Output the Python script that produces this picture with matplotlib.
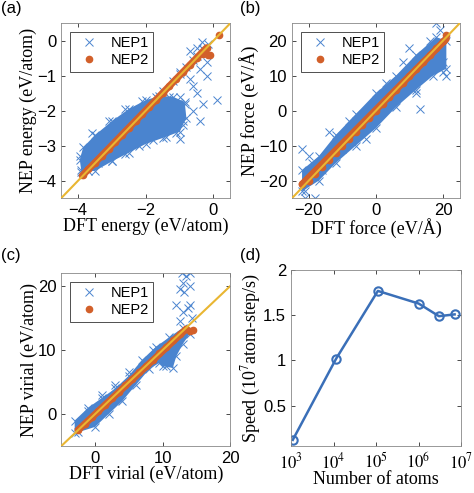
import matplotlib
matplotlib.use('Agg')
import matplotlib.pyplot as plt

plt.rcParams['font.family'] = 'Liberation Sans'
plt.rcParams['mathtext.fontset'] = 'stix'

BLUE = '#4a84cf'
ORANGE = '#d2602a'
YELLOW = '#e9b632'
SERIF = 'Liberation Serif'

# (a) energy: NEP1 cloud outline + scattered crosses, NEP2 near diagonal
a_cloud_x = [-3.9, -3.5, -3.0, -2.5, -2.0, -1.5, -1.0, -0.8, -0.85, -1.2, -1.6, -2.0, -2.5, -3.0, -3.5, -3.85, -3.95]
a_cloud_y = [-3.75, -3.72, -3.45, -3.2, -2.95, -2.78, -2.6, -2.2, -1.75, -1.6, -1.58, -1.7, -1.95, -2.3, -2.7, -3.05, -3.4]
a_nep1_x = [-3.9, -3.7, -3.4, -3.0, -2.6, -2.2, -1.8, -1.4, -1.1, -0.9, -0.85, -1.0, -1.3, -1.7, -2.1, -2.6, -3.1, -3.6,
            -3.95, -1.5, -1.2, -1.0, -0.8, -0.6, -0.5, -0.3, -0.6, -0.5, -0.3, -0.2, -0.2, 0.1, -0.4, -0.7, -0.5, -1.0,
            -0.9, -0.6, -0.4, -1.0, -0.7, -0.35, -0.25, -0.15]
a_nep1_y = [-3.7, -3.72, -3.5, -3.45, -3.25, -3.0, -2.85, -2.75, -2.65, -2.3, -1.8, -1.6, -1.6, -1.62, -1.72, -1.95, -2.3,
            -2.65, -3.3, -1.45, -1.15, -0.95, -0.75, -0.55, -0.45, -0.25, -1.3, -1.5, -1.8, -1.0, -0.6, -1.7, -0.8, -0.3,
            -0.2, -0.9, -2.4, -2.0, -2.3, -2.8, -1.1, -0.05, -0.3, -0.1]
a_band_x = [-3.88, -0.2]
a_band_y = [-3.86, -0.2]
a_nep2_x = [-3.85, -3.7, -3.5, -3.3, -3.1, -2.9, -2.7, -2.5, -2.3, -2.1, -1.9, -1.7, -1.5, -1.3, -1.1, -0.9, -0.7,
            -0.5, -0.35, -0.2, -0.15, -0.1, -0.3, 0.15]
a_nep2_y = [-3.83, -3.68, -3.5, -3.3, -3.1, -2.9, -2.7, -2.5, -2.3, -2.1, -1.9, -1.7, -1.5, -1.3, -1.1, -0.9, -0.7,
            -0.5, -0.35, -0.2, -0.4, -0.42, -0.38, 0.15]

# (b) force
b_cloud_x = [-22, -17, -12, -6, 0, 6, 12, 17, 21, 21, 18, 12, 6, 0, -6, -12, -17, -22]
b_cloud_y = [-23, -20, -15, -10, -5, 1, 6, 10, 12, 20, 21, 16, 10, 5, -1, -7, -13, -17]
b_nep1_x = [-22, -20, -21, -18, -21, -12, -8, 18, 21, 20, 13, 10, 16, 19, -16, -14, 8, 12, 3, -3, 20, 17, -19, -10]
b_nep1_y = [-11, -13, -25, -25, -23, -8, -3, 25, 10, 11, 0.5, 18, 20, 23, -17, -6, 14, 5, 8, -8, 14, 13, -15, -11]
b_band_x = [-22, 21]
b_band_y = [-21, 20.5]
b_nep2_x = [-22, -20, -18, -16, -14, -12, -10, -8, -6, -4, -2, 0, 2, 4, 6, 8, 10, 12, 14, 16, 18, 20, 21]
b_nep2_y = [-21, -20, -18, -16, -14, -12, -10, -8, -6, -4, -2, 0, 2, 4, 6, 8, 10, 12, 14, 16, 18, 20, 21.5]

# (c) virial
c_cloud_x = [-3, 0, 2, 4, 6, 8, 9.5, 10, 11.5, 12, 13, 14, 13, 11, 9, 7, 5, 3, 1, -1, -3]
c_cloud_y = [-3, -2, 0, 2, 4.5, 7, 8, 7.5, 7.2, 9, 11, 12.5, 13.5, 12, 10.5, 8.5, 6, 4, 2.5, 1, -1]
c_nep1_x = [12, 12.5, 13, 13.5, 14, 13.2, 13.8, 14, 14.3, 13, 12.8, 14, 12.5, -2.5, -1, 1, 3, 5, 8.5, 10.5, 11]
c_nep1_y = [17, 19.5, 20.5, 21.5, 22, 19, 16.5, 17, 15, 16, 22, 20, 14.5, -2.8, 0.5, 3, 4.5, 6.5, 10, 7.5, 8]
c_band_x = [-2.5, 13.5]
c_band_y = [-2.5, 13.3]
c_nep2_x = [-2.5, -1.5, -0.5, 0.5, 1.5, 2.5, 3.5, 4.5, 5.5, 6.5, 7.5, 8.5, 9.5, 10.5, 11.5, 12.5, 13.5, 14, 14.5]
c_nep2_y = [-2.5, -1.5, -0.5, 0.5, 1.5, 2.5, 3.5, 4.5, 5.5, 6.5, 7.5, 8.5, 9.5, 10.5, 11.5, 12.5, 13.3, 13.0, 13.2]

# (d) speed
n_atoms = [1.1e3, 1.15e4, 1.1e5, 1.0e6, 3.0e6, 7.0e6]
speed = [0.12, 1.02, 1.77, 1.63, 1.49, 1.51]
x_exponents = [3, 4, 5, 6, 7]

fig = plt.figure(figsize=(4.74, 4.93), dpi=100)
ax_a = fig.add_axes([0.129, 0.598, 0.357, 0.355])
ax_b = fig.add_axes([0.616, 0.598, 0.354, 0.355])
ax_c = fig.add_axes([0.129, 0.095, 0.357, 0.351])
ax_d = fig.add_axes([0.614, 0.095, 0.359, 0.357])


def parity(ax, cx, cy, px, py, bx, by, qx, qy, lim, ylim, ticks, xlabel, ylabel):
    ax.fill(cx, cy, color=BLUE, lw=0, zorder=1)
    ax.plot(cx, cy, 'x', color=BLUE, ms=6, mew=0.7, zorder=1)
    ax.plot(px, py, 'x', color=BLUE, ms=6, mew=0.7, label='NEP1', zorder=1)
    ax.plot(bx, by, '-', color=ORANGE, lw=5, solid_capstyle='round', zorder=2)
    ax.plot(qx, qy, 'o', color=ORANGE, ms=4.5, label='NEP2', zorder=2)
    ax.plot(lim, lim, color=YELLOW, lw=1.5, zorder=3)
    ax.set_xlim(lim)
    ax.set_ylim(ylim)
    ax.set_xticks(ticks)
    ax.set_yticks(ticks)
    ax.set_xlabel(xlabel, family=SERIF, fontsize=13, labelpad=0)
    ax.set_ylabel(ylabel, family=SERIF, fontsize=13, labelpad=0)
    leg = ax.legend(loc='upper left', fontsize=10.5, fancybox=False, edgecolor='black',
                    borderaxespad=0.6, handletextpad=0.5, borderpad=0.3, labelspacing=0.2)
    leg.get_frame().set_linewidth(0.6)


parity(ax_a, a_cloud_x, a_cloud_y, a_nep1_x, a_nep1_y, a_band_x, a_band_y, a_nep2_x, a_nep2_y,
       [-4.5, 0.5], [-4.5, 0.5], [-4, -2, 0], 'DFT energy (eV/atom)', 'NEP energy (eV/atom)')
ax_a.set_yticks([-4, -3, -2, -1, 0])
parity(ax_b, b_cloud_x, b_cloud_y, b_nep1_x, b_nep1_y, b_band_x, b_band_y, b_nep2_x, b_nep2_y,
       [-25, 25], [-25, 25], [-20, 0, 20], 'DFT force (eV/Å)', 'NEP force (eV/Å)')
ax_b.set_yticks([-20, -10, 0, 10, 20])
parity(ax_c, c_cloud_x, c_cloud_y, c_nep1_x, c_nep1_y, c_band_x, c_band_y, c_nep2_x, c_nep2_y,
       [-5, 20], [-5, 22], [0, 10, 20], 'DFT virial (eV/atom)', 'NEP virial (eV/atom)')

ax_d.plot(n_atoms, speed, '-o', color='#3a6fb8', lw=1.8, ms=6, mfc='none', mew=1.5)
ax_d.set_xscale('log')
ax_d.set_xlim(1e3, 1e7)
ax_d.set_xticks([10.0 ** k for k in x_exponents])
ax_d.set_xticklabels([r'$10^{%d}$' % k for k in x_exponents])
ax_d.set_ylim(0.05, 2)
ax_d.set_yticks([0.5, 1, 1.5, 2])
ax_d.set_yticklabels(['0.5', '1', '1.5', '2'])
ax_d.set_xlabel('Number of atoms', family=SERIF, fontsize=13, labelpad=0)
ax_d.set_ylabel(r'Speed (10$^7$atom-step/s)', family=SERIF, fontsize=13, labelpad=0)

for ax in (ax_a, ax_b, ax_c, ax_d):
    ax.tick_params(labelsize=12, direction='in', length=3, width=0.5, top=True, right=True, which='both')
    for s in ax.spines.values():
        s.set_color('#888888')
        s.set_linewidth(0.6)

for lbl, x, y in [('(a)', 0.003, 0.997), ('(b)', 0.506, 0.997), ('(c)', 0.003, 0.497), ('(d)', 0.506, 0.497)]:
    fig.text(x, y, lbl, fontsize=12, ha='left', va='top')

fig.savefig('out.png', dpi=100)
